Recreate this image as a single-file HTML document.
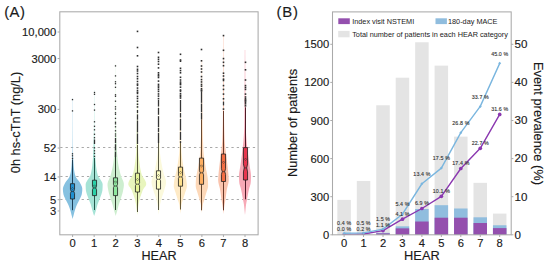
<!DOCTYPE html><html><head><meta charset="utf-8"><style>html,body{margin:0;padding:0;background:#fff;width:550px;height:266px;overflow:hidden}svg{display:block}text{font-family:"Liberation Sans", sans-serif;stroke-width:0.15px}</style></head><body>
<svg width="550" height="266" viewBox="0 0 550 266">
<rect width="550" height="266" fill="#fff"/>
<text x="4.2" y="16.9" font-size="14.9" letter-spacing="0.45" fill="#1a1a1a" stroke="#1a1a1a">(A)</text>
<line x1="60.2" y1="147.50" x2="258.1" y2="147.50" stroke="#999" stroke-width="0.85" stroke-dasharray="2.3 3.05"/>
<line x1="60.2" y1="176.50" x2="258.1" y2="176.50" stroke="#999" stroke-width="0.85" stroke-dasharray="2.3 3.05"/>
<line x1="60.2" y1="199.50" x2="258.1" y2="199.50" stroke="#999" stroke-width="0.85" stroke-dasharray="2.3 3.05"/>
<path d="M72.50,98.00 L72.50,99.53 L72.50,101.06 L72.50,102.59 L72.50,104.13 L72.50,105.66 L72.50,107.19 L72.50,108.72 L72.50,110.25 L72.50,111.78 L72.49,113.32 L72.49,114.85 L72.49,116.38 L72.49,117.91 L72.49,119.44 L72.49,120.97 L72.48,122.51 L72.48,124.04 L72.48,125.57 L72.47,127.10 L72.47,128.63 L72.47,130.16 L72.46,131.70 L72.46,133.23 L72.46,134.76 L72.45,136.29 L72.45,137.82 L72.44,139.35 L72.44,140.89 L72.43,142.42 L72.43,143.95 L72.42,145.48 L72.41,147.01 L72.41,148.54 L72.40,150.08 L72.37,151.61 L72.32,153.14 L72.24,154.67 L72.15,156.20 L72.05,157.73 L71.95,159.27 L71.85,160.80 L71.76,162.33 L71.66,163.86 L71.55,165.39 L71.42,166.92 L71.27,168.46 L71.10,169.99 L70.88,171.52 L70.59,173.05 L70.22,174.58 L69.76,176.11 L68.97,177.65 L67.84,179.18 L66.61,180.71 L65.51,182.24 L64.72,183.77 L63.96,185.30 L63.32,186.84 L62.94,188.37 L62.92,189.90 L63.04,191.43 L63.24,192.96 L63.50,194.49 L63.99,196.03 L64.67,197.56 L65.41,199.09 L66.17,200.62 L67.04,202.15 L67.85,203.68 L68.52,205.22 L69.12,206.75 L69.66,208.28 L70.15,209.81 L70.59,211.34 L71.00,212.87 L71.41,214.41 L71.82,215.94 L72.21,217.47 L72.60,219.00 L72.60,219.00 L72.99,217.47 L73.38,215.94 L73.79,214.41 L74.20,212.87 L74.61,211.34 L75.05,209.81 L75.54,208.28 L76.08,206.75 L76.68,205.22 L77.35,203.68 L78.16,202.15 L79.03,200.62 L79.79,199.09 L80.53,197.56 L81.21,196.03 L81.70,194.49 L81.96,192.96 L82.16,191.43 L82.28,189.90 L82.26,188.37 L81.88,186.84 L81.24,185.30 L80.48,183.77 L79.69,182.24 L78.59,180.71 L77.36,179.18 L76.23,177.65 L75.44,176.11 L74.98,174.58 L74.61,173.05 L74.32,171.52 L74.10,169.99 L73.93,168.46 L73.78,166.92 L73.65,165.39 L73.54,163.86 L73.44,162.33 L73.35,160.80 L73.25,159.27 L73.15,157.73 L73.05,156.20 L72.96,154.67 L72.88,153.14 L72.83,151.61 L72.80,150.08 L72.79,148.54 L72.79,147.01 L72.78,145.48 L72.77,143.95 L72.77,142.42 L72.76,140.89 L72.76,139.35 L72.75,137.82 L72.75,136.29 L72.74,134.76 L72.74,133.23 L72.74,131.70 L72.73,130.16 L72.73,128.63 L72.73,127.10 L72.72,125.57 L72.72,124.04 L72.72,122.51 L72.71,120.97 L72.71,119.44 L72.71,117.91 L72.71,116.38 L72.71,114.85 L72.71,113.32 L72.70,111.78 L72.70,110.25 L72.70,108.72 L72.70,107.19 L72.70,105.66 L72.70,104.13 L72.70,102.59 L72.70,101.06 L72.70,99.53 L72.70,98.00 Z" fill="#86c1e0" stroke="none"/>
<path d="M94.05,90.00 L94.05,91.59 L94.05,93.19 L94.05,94.78 L94.05,96.38 L94.04,97.97 L94.04,99.57 L94.04,101.16 L94.04,102.76 L94.03,104.35 L94.03,105.95 L94.02,107.54 L94.02,109.14 L94.01,110.73 L94.01,112.33 L94.00,113.92 L93.99,115.52 L93.99,117.11 L93.98,118.71 L93.97,120.30 L93.97,121.90 L93.96,123.49 L93.95,125.09 L93.94,126.68 L93.92,128.28 L93.90,129.87 L93.88,131.47 L93.85,133.06 L93.82,134.66 L93.78,136.25 L93.74,137.85 L93.70,139.44 L93.65,141.04 L93.60,142.63 L93.55,144.23 L93.50,145.82 L93.44,147.42 L93.39,149.01 L93.33,150.61 L93.26,152.20 L93.18,153.80 L93.10,155.39 L93.00,156.99 L92.90,158.58 L92.78,160.18 L92.65,161.77 L92.51,163.37 L92.35,164.96 L92.18,166.56 L91.96,168.15 L91.70,169.75 L91.41,171.34 L91.06,172.94 L90.67,174.53 L90.13,176.13 L89.20,177.72 L88.09,179.32 L86.99,180.91 L86.12,182.51 L85.67,184.10 L85.66,185.70 L85.71,187.29 L85.78,188.89 L85.90,190.48 L86.23,192.08 L86.72,193.67 L87.23,195.27 L87.81,196.86 L88.44,198.46 L89.06,200.05 L89.71,201.65 L90.34,203.24 L90.90,204.84 L91.35,206.43 L91.74,208.03 L92.14,209.62 L92.60,211.22 L93.09,212.81 L93.61,214.41 L94.15,216.00 L94.15,216.00 L94.69,214.41 L95.21,212.81 L95.70,211.22 L96.16,209.62 L96.56,208.03 L96.95,206.43 L97.40,204.84 L97.96,203.24 L98.59,201.65 L99.24,200.05 L99.86,198.46 L100.49,196.86 L101.07,195.27 L101.58,193.67 L102.07,192.08 L102.40,190.48 L102.52,188.89 L102.59,187.29 L102.64,185.70 L102.63,184.10 L102.18,182.51 L101.31,180.91 L100.21,179.32 L99.10,177.72 L98.17,176.13 L97.63,174.53 L97.24,172.94 L96.89,171.34 L96.60,169.75 L96.34,168.15 L96.12,166.56 L95.95,164.96 L95.79,163.37 L95.65,161.77 L95.52,160.18 L95.40,158.58 L95.30,156.99 L95.20,155.39 L95.12,153.80 L95.04,152.20 L94.97,150.61 L94.91,149.01 L94.86,147.42 L94.80,145.82 L94.75,144.23 L94.70,142.63 L94.65,141.04 L94.60,139.44 L94.56,137.85 L94.52,136.25 L94.48,134.66 L94.45,133.06 L94.42,131.47 L94.40,129.87 L94.38,128.28 L94.36,126.68 L94.35,125.09 L94.34,123.49 L94.33,121.90 L94.33,120.30 L94.32,118.71 L94.31,117.11 L94.31,115.52 L94.30,113.92 L94.29,112.33 L94.29,110.73 L94.28,109.14 L94.28,107.54 L94.27,105.95 L94.27,104.35 L94.26,102.76 L94.26,101.16 L94.26,99.57 L94.26,97.97 L94.25,96.38 L94.25,94.78 L94.25,93.19 L94.25,91.59 L94.25,90.00 Z" fill="#a6e3d6" stroke="none"/>
<path d="M115.60,64.00 L115.60,65.92 L115.60,67.85 L115.60,69.77 L115.60,71.70 L115.60,73.62 L115.59,75.54 L115.59,77.47 L115.59,79.39 L115.58,81.32 L115.58,83.24 L115.58,85.16 L115.57,87.09 L115.57,89.01 L115.56,90.94 L115.56,92.86 L115.55,94.78 L115.55,96.71 L115.54,98.63 L115.54,100.56 L115.53,102.48 L115.52,104.41 L115.51,106.33 L115.51,108.25 L115.50,110.18 L115.49,112.10 L115.48,114.03 L115.46,115.95 L115.44,117.87 L115.42,119.80 L115.39,121.72 L115.36,123.65 L115.33,125.57 L115.29,127.49 L115.26,129.42 L115.21,131.34 L115.17,133.27 L115.13,135.19 L115.08,137.11 L115.03,139.04 L114.97,140.96 L114.90,142.89 L114.82,144.81 L114.73,146.73 L114.62,148.66 L114.49,150.58 L114.36,152.51 L114.21,154.43 L114.04,156.35 L113.87,158.28 L113.68,160.20 L113.44,162.13 L113.15,164.05 L112.80,165.97 L112.41,167.90 L111.98,169.82 L111.52,171.75 L111.04,173.67 L110.53,175.59 L109.80,177.52 L108.93,179.44 L108.14,181.37 L107.61,183.29 L107.52,185.22 L107.72,187.14 L108.04,189.06 L108.39,190.99 L108.85,192.91 L109.40,194.84 L110.00,196.76 L110.60,198.68 L111.22,200.61 L111.90,202.53 L112.54,204.46 L113.08,206.38 L113.56,208.30 L114.06,210.23 L114.59,212.15 L115.14,214.08 L115.70,216.00 L115.70,216.00 L116.26,214.08 L116.81,212.15 L117.34,210.23 L117.84,208.30 L118.32,206.38 L118.86,204.46 L119.50,202.53 L120.18,200.61 L120.80,198.68 L121.40,196.76 L122.00,194.84 L122.55,192.91 L123.01,190.99 L123.36,189.06 L123.68,187.14 L123.88,185.22 L123.79,183.29 L123.26,181.37 L122.47,179.44 L121.60,177.52 L120.87,175.59 L120.36,173.67 L119.88,171.75 L119.42,169.82 L118.99,167.90 L118.60,165.97 L118.25,164.05 L117.96,162.13 L117.72,160.20 L117.53,158.28 L117.36,156.35 L117.19,154.43 L117.04,152.51 L116.91,150.58 L116.78,148.66 L116.67,146.73 L116.58,144.81 L116.50,142.89 L116.43,140.96 L116.37,139.04 L116.32,137.11 L116.27,135.19 L116.23,133.27 L116.19,131.34 L116.14,129.42 L116.11,127.49 L116.07,125.57 L116.04,123.65 L116.01,121.72 L115.98,119.80 L115.96,117.87 L115.94,115.95 L115.92,114.03 L115.91,112.10 L115.90,110.18 L115.89,108.25 L115.89,106.33 L115.88,104.41 L115.87,102.48 L115.86,100.56 L115.86,98.63 L115.85,96.71 L115.85,94.78 L115.84,92.86 L115.84,90.94 L115.83,89.01 L115.83,87.09 L115.82,85.16 L115.82,83.24 L115.82,81.32 L115.81,79.39 L115.81,77.47 L115.81,75.54 L115.80,73.62 L115.80,71.70 L115.80,69.77 L115.80,67.85 L115.80,65.92 L115.80,64.00 Z" fill="#cdeecf" stroke="none"/>
<path d="M136.95,100.00 L136.95,101.46 L136.95,102.91 L136.94,104.37 L136.94,105.82 L136.94,107.28 L136.93,108.73 L136.92,110.19 L136.91,111.65 L136.90,113.10 L136.89,114.56 L136.88,116.01 L136.87,117.47 L136.85,118.92 L136.84,120.38 L136.82,121.84 L136.80,123.29 L136.78,124.75 L136.76,126.20 L136.74,127.66 L136.72,129.11 L136.69,130.57 L136.67,132.03 L136.64,133.48 L136.61,134.94 L136.58,136.39 L136.55,137.85 L136.52,139.30 L136.49,140.76 L136.45,142.22 L136.42,143.67 L136.38,145.13 L136.34,146.58 L136.30,148.04 L136.26,149.49 L136.22,150.95 L136.14,152.41 L136.04,153.86 L135.92,155.32 L135.78,156.77 L135.62,158.23 L135.45,159.68 L135.27,161.14 L135.08,162.59 L134.88,164.05 L134.68,165.51 L134.46,166.96 L134.21,168.42 L133.93,169.87 L133.62,171.33 L133.27,172.78 L132.88,174.24 L132.26,175.70 L131.43,177.15 L130.50,178.61 L129.60,180.06 L128.85,181.52 L128.36,182.97 L128.29,184.43 L128.87,185.89 L129.88,187.34 L130.96,188.80 L131.76,190.25 L132.33,191.71 L132.83,193.16 L133.32,194.62 L133.83,196.08 L134.35,197.53 L134.81,198.99 L135.18,200.44 L135.50,201.90 L135.78,203.35 L136.02,204.81 L136.22,206.27 L136.39,207.72 L136.55,209.18 L136.71,210.63 L136.88,212.09 L137.06,213.54 L137.25,215.00 L137.25,215.00 L137.44,213.54 L137.62,212.09 L137.79,210.63 L137.95,209.18 L138.11,207.72 L138.28,206.27 L138.48,204.81 L138.72,203.35 L139.00,201.90 L139.32,200.44 L139.69,198.99 L140.15,197.53 L140.67,196.08 L141.18,194.62 L141.67,193.16 L142.17,191.71 L142.74,190.25 L143.54,188.80 L144.62,187.34 L145.63,185.89 L146.21,184.43 L146.14,182.97 L145.65,181.52 L144.90,180.06 L144.00,178.61 L143.07,177.15 L142.24,175.70 L141.62,174.24 L141.23,172.78 L140.88,171.33 L140.57,169.87 L140.29,168.42 L140.04,166.96 L139.82,165.51 L139.62,164.05 L139.42,162.59 L139.23,161.14 L139.05,159.68 L138.88,158.23 L138.72,156.77 L138.58,155.32 L138.46,153.86 L138.36,152.41 L138.28,150.95 L138.24,149.49 L138.20,148.04 L138.16,146.58 L138.12,145.13 L138.08,143.67 L138.05,142.22 L138.01,140.76 L137.98,139.30 L137.95,137.85 L137.92,136.39 L137.89,134.94 L137.86,133.48 L137.83,132.03 L137.81,130.57 L137.78,129.11 L137.76,127.66 L137.74,126.20 L137.72,124.75 L137.70,123.29 L137.68,121.84 L137.66,120.38 L137.65,118.92 L137.63,117.47 L137.62,116.01 L137.61,114.56 L137.60,113.10 L137.59,111.65 L137.58,110.19 L137.57,108.73 L137.56,107.28 L137.56,105.82 L137.56,104.37 L137.55,102.91 L137.55,101.46 L137.55,100.00 Z" fill="#e8f5bd" stroke="none"/>
<path d="M158.50,100.00 L158.50,101.46 L158.50,102.91 L158.50,104.37 L158.49,105.82 L158.49,107.28 L158.48,108.73 L158.47,110.19 L158.47,111.65 L158.46,113.10 L158.45,114.56 L158.43,116.01 L158.42,117.47 L158.41,118.92 L158.39,120.38 L158.38,121.84 L158.36,123.29 L158.34,124.75 L158.32,126.20 L158.30,127.66 L158.27,129.11 L158.25,130.57 L158.22,132.03 L158.20,133.48 L158.17,134.94 L158.14,136.39 L158.11,137.85 L158.08,139.30 L158.04,140.76 L158.01,142.22 L157.97,143.67 L157.94,145.13 L157.90,146.58 L157.86,148.04 L157.81,149.49 L157.76,150.95 L157.67,152.41 L157.53,153.86 L157.37,155.32 L157.17,156.77 L156.95,158.23 L156.72,159.68 L156.47,161.14 L156.22,162.59 L155.96,164.05 L155.71,165.51 L155.44,166.96 L155.13,168.42 L154.81,169.87 L154.46,171.33 L154.10,172.78 L153.74,174.24 L153.27,175.70 L152.72,177.15 L152.18,178.61 L151.75,180.06 L151.52,181.52 L151.55,182.97 L151.76,184.43 L152.11,185.89 L152.52,187.34 L152.96,188.80 L153.37,190.25 L153.80,191.71 L154.28,193.16 L154.79,194.62 L155.29,196.08 L155.77,197.53 L156.20,198.99 L156.58,200.44 L156.95,201.90 L157.28,203.35 L157.57,204.81 L157.80,206.27 L158.01,207.72 L158.19,209.18 L158.36,210.63 L158.52,212.09 L158.67,213.54 L158.80,215.00 L158.80,215.00 L158.93,213.54 L159.08,212.09 L159.24,210.63 L159.41,209.18 L159.59,207.72 L159.80,206.27 L160.03,204.81 L160.32,203.35 L160.65,201.90 L161.02,200.44 L161.40,198.99 L161.83,197.53 L162.31,196.08 L162.81,194.62 L163.32,193.16 L163.80,191.71 L164.23,190.25 L164.64,188.80 L165.08,187.34 L165.49,185.89 L165.84,184.43 L166.05,182.97 L166.08,181.52 L165.85,180.06 L165.42,178.61 L164.88,177.15 L164.33,175.70 L163.86,174.24 L163.50,172.78 L163.14,171.33 L162.79,169.87 L162.47,168.42 L162.16,166.96 L161.89,165.51 L161.64,164.05 L161.38,162.59 L161.13,161.14 L160.88,159.68 L160.65,158.23 L160.43,156.77 L160.23,155.32 L160.07,153.86 L159.93,152.41 L159.84,150.95 L159.79,149.49 L159.74,148.04 L159.70,146.58 L159.66,145.13 L159.63,143.67 L159.59,142.22 L159.56,140.76 L159.52,139.30 L159.49,137.85 L159.46,136.39 L159.43,134.94 L159.40,133.48 L159.38,132.03 L159.35,130.57 L159.33,129.11 L159.30,127.66 L159.28,126.20 L159.26,124.75 L159.24,123.29 L159.22,121.84 L159.21,120.38 L159.19,118.92 L159.18,117.47 L159.17,116.01 L159.15,114.56 L159.14,113.10 L159.13,111.65 L159.13,110.19 L159.12,108.73 L159.11,107.28 L159.11,105.82 L159.10,104.37 L159.10,102.91 L159.10,101.46 L159.10,100.00 Z" fill="#fbf9dc" stroke="none"/>
<path d="M180.05,100.00 L180.05,101.44 L180.05,102.89 L180.05,104.33 L180.04,105.77 L180.04,107.22 L180.03,108.66 L180.02,110.10 L180.02,111.54 L180.01,112.99 L180.00,114.43 L179.98,115.87 L179.97,117.32 L179.96,118.76 L179.94,120.20 L179.93,121.65 L179.91,123.09 L179.89,124.53 L179.87,125.97 L179.85,127.42 L179.83,128.86 L179.80,130.30 L179.78,131.75 L179.75,133.19 L179.73,134.63 L179.70,136.08 L179.67,137.52 L179.64,138.96 L179.60,140.41 L179.57,141.85 L179.53,143.29 L179.50,144.73 L179.46,146.18 L179.42,147.62 L179.38,149.06 L179.33,150.51 L179.25,151.95 L179.13,153.39 L178.99,154.84 L178.82,156.28 L178.64,157.72 L178.46,159.16 L178.27,160.61 L178.07,162.05 L177.84,163.49 L177.60,164.94 L177.34,166.38 L177.07,167.82 L176.79,169.27 L176.50,170.71 L176.17,172.15 L175.80,173.59 L175.41,175.04 L175.05,176.48 L174.72,177.92 L174.44,179.37 L174.24,180.81 L174.04,182.25 L173.87,183.70 L173.77,185.14 L173.78,186.58 L174.04,188.03 L174.49,189.47 L175.00,190.91 L175.45,192.35 L175.90,193.80 L176.36,195.24 L176.83,196.68 L177.31,198.13 L177.77,199.57 L178.26,201.01 L178.75,202.46 L179.13,203.90 L179.38,205.34 L179.58,206.78 L179.75,208.23 L179.91,209.67 L180.07,211.11 L180.22,212.56 L180.35,214.00 L180.35,214.00 L180.48,212.56 L180.63,211.11 L180.79,209.67 L180.95,208.23 L181.12,206.78 L181.32,205.34 L181.57,203.90 L181.95,202.46 L182.44,201.01 L182.93,199.57 L183.39,198.13 L183.87,196.68 L184.34,195.24 L184.80,193.80 L185.25,192.35 L185.70,190.91 L186.21,189.47 L186.66,188.03 L186.92,186.58 L186.93,185.14 L186.83,183.70 L186.66,182.25 L186.46,180.81 L186.26,179.37 L185.98,177.92 L185.65,176.48 L185.29,175.04 L184.90,173.59 L184.53,172.15 L184.20,170.71 L183.91,169.27 L183.63,167.82 L183.36,166.38 L183.10,164.94 L182.86,163.49 L182.63,162.05 L182.43,160.61 L182.24,159.16 L182.06,157.72 L181.88,156.28 L181.71,154.84 L181.57,153.39 L181.45,151.95 L181.37,150.51 L181.32,149.06 L181.28,147.62 L181.24,146.18 L181.20,144.73 L181.17,143.29 L181.13,141.85 L181.10,140.41 L181.06,138.96 L181.03,137.52 L181.00,136.08 L180.97,134.63 L180.95,133.19 L180.92,131.75 L180.90,130.30 L180.87,128.86 L180.85,127.42 L180.83,125.97 L180.81,124.53 L180.79,123.09 L180.77,121.65 L180.76,120.20 L180.74,118.76 L180.73,117.32 L180.72,115.87 L180.70,114.43 L180.69,112.99 L180.68,111.54 L180.68,110.10 L180.67,108.66 L180.66,107.22 L180.66,105.77 L180.65,104.33 L180.65,102.89 L180.65,101.44 L180.65,100.00 Z" fill="#feeac6" stroke="none"/>
<path d="M201.70,60.00 L201.70,61.94 L201.70,63.87 L201.70,65.81 L201.69,67.75 L201.69,69.68 L201.68,71.62 L201.68,73.56 L201.67,75.49 L201.66,77.43 L201.65,79.37 L201.64,81.30 L201.63,83.24 L201.62,85.18 L201.61,87.11 L201.59,89.05 L201.58,90.99 L201.57,92.92 L201.55,94.86 L201.54,96.80 L201.52,98.73 L201.50,100.67 L201.48,102.61 L201.47,104.54 L201.45,106.48 L201.43,108.42 L201.41,110.35 L201.39,112.29 L201.37,114.23 L201.34,116.16 L201.32,118.10 L201.30,120.04 L201.27,121.97 L201.25,123.91 L201.21,125.85 L201.18,127.78 L201.14,129.72 L201.09,131.66 L201.04,133.59 L200.99,135.53 L200.93,137.47 L200.86,139.41 L200.79,141.34 L200.71,143.28 L200.63,145.22 L200.54,147.15 L200.45,149.09 L200.34,151.03 L200.18,152.96 L199.97,154.90 L199.72,156.84 L199.44,158.77 L199.15,160.71 L198.85,162.65 L198.56,164.58 L198.25,166.52 L197.88,168.46 L197.47,170.39 L197.06,172.33 L196.66,174.27 L196.32,176.20 L196.05,178.14 L195.90,180.08 L195.80,182.01 L195.73,183.95 L195.70,185.89 L195.92,187.82 L196.49,189.76 L197.18,191.70 L197.78,193.63 L198.34,195.57 L198.91,197.51 L199.48,199.44 L200.09,201.38 L200.65,203.32 L201.01,205.25 L201.28,207.19 L201.50,209.13 L201.71,211.06 L201.90,213.00 L201.90,213.00 L202.09,211.06 L202.30,209.13 L202.52,207.19 L202.79,205.25 L203.15,203.32 L203.71,201.38 L204.32,199.44 L204.89,197.51 L205.46,195.57 L206.02,193.63 L206.62,191.70 L207.31,189.76 L207.88,187.82 L208.10,185.89 L208.07,183.95 L208.00,182.01 L207.90,180.08 L207.75,178.14 L207.48,176.20 L207.14,174.27 L206.74,172.33 L206.33,170.39 L205.92,168.46 L205.55,166.52 L205.24,164.58 L204.95,162.65 L204.65,160.71 L204.36,158.77 L204.08,156.84 L203.83,154.90 L203.62,152.96 L203.46,151.03 L203.35,149.09 L203.26,147.15 L203.17,145.22 L203.09,143.28 L203.01,141.34 L202.94,139.41 L202.87,137.47 L202.81,135.53 L202.76,133.59 L202.71,131.66 L202.66,129.72 L202.62,127.78 L202.59,125.85 L202.55,123.91 L202.53,121.97 L202.50,120.04 L202.48,118.10 L202.46,116.16 L202.43,114.23 L202.41,112.29 L202.39,110.35 L202.37,108.42 L202.35,106.48 L202.33,104.54 L202.32,102.61 L202.30,100.67 L202.28,98.73 L202.26,96.80 L202.25,94.86 L202.23,92.92 L202.22,90.99 L202.21,89.05 L202.19,87.11 L202.18,85.18 L202.17,83.24 L202.16,81.30 L202.15,79.37 L202.14,77.43 L202.13,75.49 L202.12,73.56 L202.12,71.62 L202.11,69.68 L202.11,67.75 L202.10,65.81 L202.10,63.87 L202.10,61.94 L202.10,60.00 Z" fill="#fdd8b8" stroke="none"/>
<path d="M223.25,35.00 L223.25,37.27 L223.25,39.53 L223.25,41.80 L223.25,44.06 L223.24,46.33 L223.24,48.59 L223.24,50.86 L223.23,53.13 L223.23,55.39 L223.22,57.66 L223.21,59.92 L223.21,62.19 L223.20,64.46 L223.19,66.72 L223.18,68.99 L223.18,71.25 L223.17,73.52 L223.16,75.78 L223.15,78.05 L223.14,80.32 L223.12,82.58 L223.11,84.85 L223.10,87.11 L223.09,89.38 L223.07,91.65 L223.06,93.91 L223.05,96.18 L223.03,98.44 L223.02,100.71 L223.00,102.97 L222.99,105.24 L222.97,107.51 L222.95,109.77 L222.93,112.04 L222.91,114.30 L222.88,116.57 L222.84,118.84 L222.80,121.10 L222.76,123.37 L222.71,125.63 L222.65,127.90 L222.59,130.16 L222.52,132.43 L222.45,134.70 L222.37,136.96 L222.28,139.23 L222.17,141.49 L222.01,143.76 L221.79,146.03 L221.53,148.29 L221.25,150.56 L220.95,152.82 L220.65,155.09 L220.36,157.35 L220.09,159.62 L219.84,161.89 L219.58,164.15 L219.31,166.42 L219.05,168.68 L218.81,170.95 L218.59,173.22 L218.41,175.48 L218.24,177.75 L218.15,180.01 L218.35,182.28 L218.83,184.54 L219.43,186.81 L219.98,189.08 L220.36,191.34 L220.66,193.61 L220.95,195.87 L221.25,198.14 L221.60,200.41 L222.04,202.67 L222.44,204.94 L222.73,207.20 L222.99,209.47 L223.23,211.73 L223.45,214.00 L223.45,214.00 L223.67,211.73 L223.91,209.47 L224.17,207.20 L224.46,204.94 L224.86,202.67 L225.30,200.41 L225.65,198.14 L225.95,195.87 L226.24,193.61 L226.54,191.34 L226.92,189.08 L227.47,186.81 L228.07,184.54 L228.55,182.28 L228.75,180.01 L228.66,177.75 L228.49,175.48 L228.31,173.22 L228.09,170.95 L227.85,168.68 L227.59,166.42 L227.32,164.15 L227.06,161.89 L226.81,159.62 L226.54,157.35 L226.25,155.09 L225.95,152.82 L225.65,150.56 L225.37,148.29 L225.11,146.03 L224.89,143.76 L224.73,141.49 L224.62,139.23 L224.53,136.96 L224.45,134.70 L224.38,132.43 L224.31,130.16 L224.25,127.90 L224.19,125.63 L224.14,123.37 L224.10,121.10 L224.06,118.84 L224.02,116.57 L223.99,114.30 L223.97,112.04 L223.95,109.77 L223.93,107.51 L223.91,105.24 L223.90,102.97 L223.88,100.71 L223.87,98.44 L223.85,96.18 L223.84,93.91 L223.83,91.65 L223.81,89.38 L223.80,87.11 L223.79,84.85 L223.78,82.58 L223.76,80.32 L223.75,78.05 L223.74,75.78 L223.73,73.52 L223.72,71.25 L223.72,68.99 L223.71,66.72 L223.70,64.46 L223.69,62.19 L223.69,59.92 L223.68,57.66 L223.67,55.39 L223.67,53.13 L223.66,50.86 L223.66,48.59 L223.66,46.33 L223.65,44.06 L223.65,41.80 L223.65,39.53 L223.65,37.27 L223.65,35.00 Z" fill="#fac4ae" stroke="none"/>
<path d="M244.80,50.00 L244.80,52.09 L244.79,54.18 L244.78,56.27 L244.78,58.35 L244.77,60.44 L244.76,62.53 L244.75,64.62 L244.74,66.71 L244.73,68.80 L244.72,70.89 L244.71,72.97 L244.70,75.06 L244.69,77.15 L244.68,79.24 L244.66,81.33 L244.65,83.42 L244.64,85.51 L244.62,87.59 L244.61,89.68 L244.60,91.77 L244.58,93.86 L244.57,95.95 L244.55,98.04 L244.54,100.13 L244.52,102.22 L244.51,104.30 L244.49,106.39 L244.48,108.48 L244.46,110.57 L244.44,112.66 L244.43,114.75 L244.41,116.84 L244.39,118.92 L244.36,121.01 L244.33,123.10 L244.30,125.19 L244.24,127.28 L244.16,129.37 L244.06,131.46 L243.94,133.54 L243.81,135.63 L243.66,137.72 L243.51,139.81 L243.35,141.90 L243.14,143.99 L242.91,146.08 L242.68,148.16 L242.44,150.25 L242.19,152.34 L241.92,154.43 L241.64,156.52 L241.36,158.61 L241.08,160.70 L240.80,162.78 L240.52,164.87 L240.20,166.96 L239.82,169.05 L239.46,171.14 L239.17,173.23 L239.01,175.32 L239.01,177.41 L239.08,179.49 L239.18,181.58 L239.42,183.67 L239.97,185.76 L240.62,187.85 L241.19,189.94 L241.62,192.03 L242.02,194.11 L242.40,196.20 L242.78,198.29 L243.17,200.38 L243.58,202.47 L243.94,204.56 L244.19,206.65 L244.39,208.73 L244.58,210.82 L244.79,212.91 L245.00,215.00 L245.00,215.00 L245.21,212.91 L245.42,210.82 L245.61,208.73 L245.81,206.65 L246.06,204.56 L246.42,202.47 L246.83,200.38 L247.22,198.29 L247.60,196.20 L247.98,194.11 L248.38,192.03 L248.81,189.94 L249.38,187.85 L250.03,185.76 L250.58,183.67 L250.82,181.58 L250.92,179.49 L250.99,177.41 L250.99,175.32 L250.83,173.23 L250.54,171.14 L250.18,169.05 L249.80,166.96 L249.48,164.87 L249.20,162.78 L248.92,160.70 L248.64,158.61 L248.36,156.52 L248.08,154.43 L247.81,152.34 L247.56,150.25 L247.32,148.16 L247.09,146.08 L246.86,143.99 L246.65,141.90 L246.49,139.81 L246.34,137.72 L246.19,135.63 L246.06,133.54 L245.94,131.46 L245.84,129.37 L245.76,127.28 L245.70,125.19 L245.67,123.10 L245.64,121.01 L245.61,118.92 L245.59,116.84 L245.57,114.75 L245.56,112.66 L245.54,110.57 L245.52,108.48 L245.51,106.39 L245.49,104.30 L245.48,102.22 L245.46,100.13 L245.45,98.04 L245.43,95.95 L245.42,93.86 L245.40,91.77 L245.39,89.68 L245.38,87.59 L245.36,85.51 L245.35,83.42 L245.34,81.33 L245.32,79.24 L245.31,77.15 L245.30,75.06 L245.29,72.97 L245.28,70.89 L245.27,68.80 L245.26,66.71 L245.25,64.62 L245.24,62.53 L245.23,60.44 L245.22,58.35 L245.22,56.27 L245.21,54.18 L245.20,52.09 L245.20,50.00 Z" fill="#f7a9b6" stroke="none"/>
<line x1="72.50" y1="159.50" x2="72.50" y2="183.70" stroke="#1c4058" stroke-width="1.0"/>
<line x1="72.50" y1="199.00" x2="72.50" y2="210.20" stroke="#1c4058" stroke-width="1.0"/>
<rect x="71.85" y="98.95" width="1.3" height="1.3" fill="#2e2e2e"/>
<rect x="71.85" y="110.25" width="1.3" height="1.3" fill="#2e2e2e"/>
<rect x="71.85" y="153.15" width="1.3" height="1.3" fill="#2e2e2e"/>
<rect x="71.85" y="155.15" width="1.3" height="1.3" fill="#2e2e2e"/>
<rect x="71.85" y="157.75" width="1.3" height="1.3" fill="#2e2e2e"/>
<path d="M70.45,183.70 L74.55,183.70 L74.55,189.40 L73.75,191.40 L74.55,193.40 L74.55,199.00 L70.45,199.00 L70.45,193.40 L71.25,191.40 L70.45,189.40 Z" fill="#1f8fd0" stroke="#1e1e1e" stroke-width="0.8"/>
<line x1="71.25" y1="191.40" x2="73.75" y2="191.40" stroke="#222" stroke-width="0.6"/>
<path d="M72.50,187.40 L73.70,188.60 L72.50,189.80 L71.30,188.60 Z" fill="none" stroke="#333" stroke-width="0.5"/>
<line x1="94.50" y1="158.00" x2="94.50" y2="180.20" stroke="#24584c" stroke-width="1.0"/>
<line x1="94.50" y1="195.60" x2="94.50" y2="210.00" stroke="#24584c" stroke-width="1.0"/>
<line x1="94.50" y1="139.50" x2="94.50" y2="144.00" stroke="#333" stroke-width="1.3"/>
<rect x="93.85" y="91.85" width="1.3" height="1.3" fill="#2e2e2e"/>
<rect x="93.85" y="93.65" width="1.3" height="1.3" fill="#2e2e2e"/>
<rect x="93.85" y="103.85" width="1.3" height="1.3" fill="#2e2e2e"/>
<rect x="93.85" y="109.45" width="1.3" height="1.3" fill="#2e2e2e"/>
<rect x="93.85" y="121.15" width="1.3" height="1.3" fill="#2e2e2e"/>
<rect x="93.85" y="125.65" width="1.3" height="1.3" fill="#2e2e2e"/>
<rect x="93.85" y="129.15" width="1.3" height="1.3" fill="#2e2e2e"/>
<rect x="93.85" y="133.65" width="1.3" height="1.3" fill="#2e2e2e"/>
<rect x="93.85" y="137.05" width="1.3" height="1.3" fill="#2e2e2e"/>
<rect x="93.85" y="147.15" width="1.3" height="1.3" fill="#2e2e2e"/>
<rect x="93.85" y="150.15" width="1.3" height="1.3" fill="#2e2e2e"/>
<rect x="93.85" y="152.75" width="1.3" height="1.3" fill="#2e2e2e"/>
<rect x="93.85" y="155.75" width="1.3" height="1.3" fill="#2e2e2e"/>
<path d="M92.45,180.20 L96.55,180.20 L96.55,186.20 L95.75,188.00 L96.55,189.80 L96.55,195.60 L92.45,195.60 L92.45,189.80 L93.25,188.00 L92.45,186.20 Z" fill="#2ad0a8" stroke="#1e1e1e" stroke-width="0.8"/>
<line x1="93.25" y1="188.00" x2="95.75" y2="188.00" stroke="#222" stroke-width="0.6"/>
<path d="M94.50,184.80 L95.70,186.00 L94.50,187.20 L93.30,186.00 Z" fill="none" stroke="#333" stroke-width="0.5"/>
<line x1="115.50" y1="157.00" x2="115.50" y2="177.80" stroke="#2e3e2e" stroke-width="1.0"/>
<line x1="115.50" y1="195.60" x2="115.50" y2="210.00" stroke="#2e3e2e" stroke-width="1.0"/>
<line x1="115.50" y1="138.00" x2="115.50" y2="143.14" stroke="#353535" stroke-width="1.3"/>
<line x1="115.50" y1="144.18" x2="115.50" y2="150.51" stroke="#353535" stroke-width="1.3"/>
<line x1="115.50" y1="151.59" x2="115.50" y2="157.00" stroke="#353535" stroke-width="1.3"/>
<rect x="114.85" y="65.25" width="1.3" height="1.3" fill="#2e2e2e"/>
<rect x="114.85" y="75.25" width="1.3" height="1.3" fill="#2e2e2e"/>
<rect x="114.85" y="81.15" width="1.3" height="1.3" fill="#2e2e2e"/>
<rect x="114.85" y="83.05" width="1.3" height="1.3" fill="#2e2e2e"/>
<rect x="114.85" y="86.65" width="1.3" height="1.3" fill="#2e2e2e"/>
<rect x="114.85" y="94.15" width="1.3" height="1.3" fill="#2e2e2e"/>
<rect x="114.85" y="95.65" width="1.3" height="1.3" fill="#2e2e2e"/>
<rect x="114.85" y="100.55" width="1.3" height="1.3" fill="#2e2e2e"/>
<rect x="114.85" y="106.15" width="1.3" height="1.3" fill="#2e2e2e"/>
<rect x="114.85" y="108.35" width="1.3" height="1.3" fill="#2e2e2e"/>
<rect x="114.85" y="112.15" width="1.3" height="1.3" fill="#2e2e2e"/>
<rect x="114.85" y="113.65" width="1.3" height="1.3" fill="#2e2e2e"/>
<rect x="114.85" y="117.75" width="1.3" height="1.3" fill="#2e2e2e"/>
<rect x="114.85" y="121.65" width="1.3" height="1.3" fill="#2e2e2e"/>
<rect x="114.85" y="123.15" width="1.3" height="1.3" fill="#2e2e2e"/>
<rect x="114.85" y="126.15" width="1.3" height="1.3" fill="#2e2e2e"/>
<rect x="114.85" y="130.15" width="1.3" height="1.3" fill="#2e2e2e"/>
<rect x="114.85" y="133.35" width="1.3" height="1.3" fill="#2e2e2e"/>
<rect x="114.85" y="135.35" width="1.3" height="1.3" fill="#2e2e2e"/>
<path d="M113.45,177.80 L117.55,177.80 L117.55,184.40 L116.75,186.00 L117.55,187.60 L117.55,195.60 L113.45,195.60 L113.45,187.60 L114.25,186.00 L113.45,184.40 Z" fill="#8fe89f" stroke="#1e1e1e" stroke-width="0.8"/>
<line x1="114.25" y1="186.00" x2="116.75" y2="186.00" stroke="#222" stroke-width="0.6"/>
<path d="M115.50,180.80 L116.70,182.00 L115.50,183.20 L114.30,182.00 Z" fill="none" stroke="#333" stroke-width="0.5"/>
<line x1="137.50" y1="145.00" x2="137.50" y2="173.20" stroke="#55553a" stroke-width="1.0"/>
<line x1="137.50" y1="192.00" x2="137.50" y2="212.00" stroke="#55553a" stroke-width="1.0"/>
<line x1="137.50" y1="110.00" x2="137.50" y2="113.12" stroke="#353535" stroke-width="1.3"/>
<line x1="137.50" y1="114.39" x2="137.50" y2="119.72" stroke="#353535" stroke-width="1.3"/>
<line x1="137.50" y1="120.51" x2="137.50" y2="132.47" stroke="#353535" stroke-width="1.3"/>
<line x1="137.50" y1="133.45" x2="137.50" y2="143.98" stroke="#353535" stroke-width="1.3"/>
<line x1="137.50" y1="144.96" x2="137.50" y2="145.00" stroke="#353535" stroke-width="1.3"/>
<rect x="136.70" y="30.60" width="1.6" height="1.6" fill="#2e2e2e"/>
<rect x="136.70" y="46.70" width="1.6" height="1.6" fill="#2e2e2e"/>
<rect x="136.70" y="55.00" width="1.6" height="1.6" fill="#2e2e2e"/>
<rect x="136.70" y="65.70" width="1.6" height="1.6" fill="#2e2e2e"/>
<rect x="136.70" y="68.50" width="1.6" height="1.6" fill="#2e2e2e"/>
<rect x="136.70" y="70.20" width="1.6" height="1.6" fill="#2e2e2e"/>
<rect x="136.70" y="72.70" width="1.6" height="1.6" fill="#2e2e2e"/>
<rect x="136.70" y="75.71" width="1.6" height="1.6" fill="#2e2e2e"/>
<rect x="136.70" y="77.96" width="1.6" height="1.6" fill="#2e2e2e"/>
<rect x="136.70" y="80.69" width="1.6" height="1.6" fill="#2e2e2e"/>
<rect x="136.70" y="83.27" width="1.6" height="1.6" fill="#2e2e2e"/>
<rect x="136.70" y="84.51" width="1.6" height="1.6" fill="#2e2e2e"/>
<rect x="136.70" y="87.27" width="1.6" height="1.6" fill="#2e2e2e"/>
<rect x="136.70" y="89.67" width="1.6" height="1.6" fill="#2e2e2e"/>
<rect x="136.70" y="91.44" width="1.6" height="1.6" fill="#2e2e2e"/>
<rect x="136.70" y="92.61" width="1.6" height="1.6" fill="#2e2e2e"/>
<rect x="136.70" y="95.61" width="1.6" height="1.6" fill="#2e2e2e"/>
<rect x="136.70" y="97.75" width="1.6" height="1.6" fill="#2e2e2e"/>
<rect x="136.70" y="100.43" width="1.6" height="1.6" fill="#2e2e2e"/>
<rect x="136.70" y="103.46" width="1.6" height="1.6" fill="#2e2e2e"/>
<rect x="136.70" y="106.14" width="1.6" height="1.6" fill="#2e2e2e"/>
<path d="M135.45,173.20 L139.55,173.20 L139.55,182.80 L138.75,184.20 L139.55,185.60 L139.55,192.00 L135.45,192.00 L135.45,185.60 L136.25,184.20 L135.45,182.80 Z" fill="#e6f598" stroke="#1e1e1e" stroke-width="0.8"/>
<line x1="136.25" y1="184.20" x2="138.75" y2="184.20" stroke="#222" stroke-width="0.6"/>
<path d="M137.50,178.30 L138.70,179.50 L137.50,180.70 L136.30,179.50 Z" fill="none" stroke="#333" stroke-width="0.5"/>
<line x1="158.50" y1="143.00" x2="158.50" y2="170.80" stroke="#5a5a45" stroke-width="1.0"/>
<line x1="158.50" y1="189.10" x2="158.50" y2="210.00" stroke="#5a5a45" stroke-width="1.0"/>
<line x1="158.50" y1="100.00" x2="158.50" y2="106.55" stroke="#353535" stroke-width="1.3"/>
<line x1="158.50" y1="107.80" x2="158.50" y2="114.80" stroke="#353535" stroke-width="1.3"/>
<line x1="158.50" y1="116.15" x2="158.50" y2="127.06" stroke="#353535" stroke-width="1.3"/>
<line x1="158.50" y1="127.73" x2="158.50" y2="131.96" stroke="#353535" stroke-width="1.3"/>
<line x1="158.50" y1="132.73" x2="158.50" y2="143.00" stroke="#353535" stroke-width="1.3"/>
<rect x="157.70" y="51.70" width="1.6" height="1.6" fill="#2e2e2e"/>
<rect x="157.70" y="56.50" width="1.6" height="1.6" fill="#2e2e2e"/>
<rect x="157.70" y="58.50" width="1.6" height="1.6" fill="#2e2e2e"/>
<rect x="157.70" y="60.70" width="1.6" height="1.6" fill="#2e2e2e"/>
<rect x="157.70" y="63.40" width="1.6" height="1.6" fill="#2e2e2e"/>
<rect x="157.70" y="67.10" width="1.6" height="1.6" fill="#2e2e2e"/>
<rect x="157.70" y="80.30" width="1.6" height="1.6" fill="#2e2e2e"/>
<rect x="157.70" y="83.60" width="1.6" height="1.6" fill="#2e2e2e"/>
<rect x="157.70" y="72.00" width="1.6" height="1.6" fill="#2e2e2e"/>
<rect x="157.70" y="73.80" width="1.6" height="1.6" fill="#2e2e2e"/>
<rect x="157.70" y="75.08" width="1.6" height="1.6" fill="#2e2e2e"/>
<rect x="157.70" y="76.70" width="1.6" height="1.6" fill="#2e2e2e"/>
<rect x="157.70" y="85.20" width="1.6" height="1.6" fill="#2e2e2e"/>
<rect x="157.70" y="86.73" width="1.6" height="1.6" fill="#2e2e2e"/>
<rect x="157.70" y="88.68" width="1.6" height="1.6" fill="#2e2e2e"/>
<rect x="157.70" y="90.64" width="1.6" height="1.6" fill="#2e2e2e"/>
<rect x="157.70" y="93.16" width="1.6" height="1.6" fill="#2e2e2e"/>
<rect x="157.70" y="95.29" width="1.6" height="1.6" fill="#2e2e2e"/>
<rect x="157.70" y="97.86" width="1.6" height="1.6" fill="#2e2e2e"/>
<path d="M156.45,170.80 L160.55,170.80 L160.55,178.00 L159.75,179.30 L160.55,180.60 L160.55,189.10 L156.45,189.10 L156.45,180.60 L157.25,179.30 L156.45,178.00 Z" fill="#ffffc4" stroke="#1e1e1e" stroke-width="0.8"/>
<line x1="157.25" y1="179.30" x2="159.75" y2="179.30" stroke="#222" stroke-width="0.6"/>
<path d="M158.50,174.30 L159.70,175.50 L158.50,176.70 L157.30,175.50 Z" fill="none" stroke="#333" stroke-width="0.5"/>
<line x1="180.50" y1="143.00" x2="180.50" y2="167.10" stroke="#6a5a35" stroke-width="1.0"/>
<line x1="180.50" y1="186.20" x2="180.50" y2="209.50" stroke="#6a5a35" stroke-width="1.0"/>
<line x1="180.50" y1="100.00" x2="180.50" y2="111.92" stroke="#353535" stroke-width="1.3"/>
<line x1="180.50" y1="113.06" x2="180.50" y2="117.52" stroke="#353535" stroke-width="1.3"/>
<line x1="180.50" y1="118.81" x2="180.50" y2="130.49" stroke="#353535" stroke-width="1.3"/>
<line x1="180.50" y1="131.82" x2="180.50" y2="139.94" stroke="#353535" stroke-width="1.3"/>
<line x1="180.50" y1="141.11" x2="180.50" y2="143.00" stroke="#353535" stroke-width="1.3"/>
<rect x="179.70" y="53.50" width="1.6" height="1.6" fill="#2e2e2e"/>
<rect x="179.70" y="59.20" width="1.6" height="1.6" fill="#2e2e2e"/>
<rect x="179.70" y="60.40" width="1.6" height="1.6" fill="#2e2e2e"/>
<rect x="179.70" y="67.50" width="1.6" height="1.6" fill="#2e2e2e"/>
<rect x="179.70" y="69.80" width="1.6" height="1.6" fill="#2e2e2e"/>
<rect x="179.70" y="72.00" width="1.6" height="1.6" fill="#2e2e2e"/>
<rect x="179.70" y="76.50" width="1.6" height="1.6" fill="#2e2e2e"/>
<rect x="179.70" y="79.20" width="1.6" height="1.6" fill="#2e2e2e"/>
<rect x="179.70" y="81.24" width="1.6" height="1.6" fill="#2e2e2e"/>
<rect x="179.70" y="82.73" width="1.6" height="1.6" fill="#2e2e2e"/>
<rect x="179.70" y="83.80" width="1.6" height="1.6" fill="#2e2e2e"/>
<rect x="179.70" y="86.37" width="1.6" height="1.6" fill="#2e2e2e"/>
<rect x="179.70" y="89.20" width="1.6" height="1.6" fill="#2e2e2e"/>
<rect x="179.70" y="90.32" width="1.6" height="1.6" fill="#2e2e2e"/>
<rect x="179.70" y="92.79" width="1.6" height="1.6" fill="#2e2e2e"/>
<rect x="179.70" y="94.52" width="1.6" height="1.6" fill="#2e2e2e"/>
<rect x="179.70" y="95.76" width="1.6" height="1.6" fill="#2e2e2e"/>
<rect x="179.70" y="97.27" width="1.6" height="1.6" fill="#2e2e2e"/>
<path d="M178.45,167.10 L182.55,167.10 L182.55,175.50 L181.75,176.90 L182.55,178.30 L182.55,186.20 L178.45,186.20 L178.45,178.30 L179.25,176.90 L178.45,175.50 Z" fill="#fee08b" stroke="#1e1e1e" stroke-width="0.8"/>
<line x1="179.25" y1="176.90" x2="181.75" y2="176.90" stroke="#222" stroke-width="0.6"/>
<path d="M180.50,171.30 L181.70,172.50 L180.50,173.70 L179.30,172.50 Z" fill="none" stroke="#333" stroke-width="0.5"/>
<line x1="201.50" y1="119.50" x2="201.50" y2="158.10" stroke="#6a4a30" stroke-width="1.0"/>
<line x1="201.50" y1="184.30" x2="201.50" y2="210.30" stroke="#6a4a30" stroke-width="1.0"/>
<line x1="201.50" y1="92.00" x2="201.50" y2="102.85" stroke="#353535" stroke-width="1.3"/>
<line x1="201.50" y1="103.49" x2="201.50" y2="112.02" stroke="#353535" stroke-width="1.3"/>
<line x1="201.50" y1="112.66" x2="201.50" y2="119.50" stroke="#353535" stroke-width="1.3"/>
<rect x="200.70" y="48.70" width="1.6" height="1.6" fill="#2e2e2e"/>
<rect x="200.70" y="60.00" width="1.6" height="1.6" fill="#2e2e2e"/>
<rect x="200.70" y="65.20" width="1.6" height="1.6" fill="#2e2e2e"/>
<rect x="200.70" y="68.20" width="1.6" height="1.6" fill="#2e2e2e"/>
<rect x="200.70" y="71.20" width="1.6" height="1.6" fill="#2e2e2e"/>
<rect x="200.70" y="75.80" width="1.6" height="1.6" fill="#2e2e2e"/>
<rect x="200.70" y="78.80" width="1.6" height="1.6" fill="#2e2e2e"/>
<rect x="200.70" y="81.15" width="1.6" height="1.6" fill="#2e2e2e"/>
<rect x="200.70" y="83.66" width="1.6" height="1.6" fill="#2e2e2e"/>
<rect x="200.70" y="85.37" width="1.6" height="1.6" fill="#2e2e2e"/>
<rect x="200.70" y="87.92" width="1.6" height="1.6" fill="#2e2e2e"/>
<rect x="200.70" y="89.30" width="1.6" height="1.6" fill="#2e2e2e"/>
<rect x="200.70" y="90.28" width="1.6" height="1.6" fill="#2e2e2e"/>
<path d="M199.45,158.10 L203.55,158.10 L203.55,170.80 L202.75,172.80 L203.55,174.80 L203.55,184.30 L199.45,184.30 L199.45,174.80 L200.25,172.80 L199.45,170.80 Z" fill="#fdae61" stroke="#1e1e1e" stroke-width="0.8"/>
<line x1="200.25" y1="172.80" x2="202.75" y2="172.80" stroke="#222" stroke-width="0.6"/>
<path d="M201.50,164.80 L202.70,166.00 L201.50,167.20 L200.30,166.00 Z" fill="none" stroke="#333" stroke-width="0.5"/>
<line x1="223.50" y1="111.00" x2="223.50" y2="154.00" stroke="#6a3a2a" stroke-width="1.0"/>
<line x1="223.50" y1="181.50" x2="223.50" y2="210.30" stroke="#6a3a2a" stroke-width="1.0"/>
<line x1="223.50" y1="101.60" x2="223.50" y2="105.40" stroke="#333" stroke-width="1.3"/>
<rect x="222.70" y="34.80" width="1.6" height="1.6" fill="#2e2e2e"/>
<rect x="222.70" y="49.50" width="1.6" height="1.6" fill="#2e2e2e"/>
<rect x="222.70" y="57.80" width="1.6" height="1.6" fill="#2e2e2e"/>
<rect x="222.70" y="61.50" width="1.6" height="1.6" fill="#2e2e2e"/>
<rect x="222.70" y="64.90" width="1.6" height="1.6" fill="#2e2e2e"/>
<rect x="222.70" y="72.40" width="1.6" height="1.6" fill="#2e2e2e"/>
<rect x="222.70" y="75.20" width="1.6" height="1.6" fill="#2e2e2e"/>
<rect x="222.70" y="78.40" width="1.6" height="1.6" fill="#2e2e2e"/>
<rect x="222.70" y="79.70" width="1.6" height="1.6" fill="#2e2e2e"/>
<rect x="222.70" y="84.80" width="1.6" height="1.6" fill="#2e2e2e"/>
<rect x="222.70" y="88.60" width="1.6" height="1.6" fill="#2e2e2e"/>
<rect x="222.70" y="93.30" width="1.6" height="1.6" fill="#2e2e2e"/>
<rect x="222.70" y="98.00" width="1.6" height="1.6" fill="#2e2e2e"/>
<rect x="222.70" y="108.30" width="1.6" height="1.6" fill="#2e2e2e"/>
<path d="M221.45,154.00 L225.55,154.00 L225.55,168.80 L224.75,171.60 L225.55,174.40 L225.55,181.50 L221.45,181.50 L221.45,174.40 L222.25,171.60 L221.45,168.80 Z" fill="#f46d43" stroke="#1e1e1e" stroke-width="0.8"/>
<line x1="222.25" y1="171.60" x2="224.75" y2="171.60" stroke="#222" stroke-width="0.6"/>
<path d="M223.50,161.10 L224.70,162.30 L223.50,163.50 L222.30,162.30 Z" fill="none" stroke="#333" stroke-width="0.5"/>
<line x1="245.50" y1="107.30" x2="245.50" y2="147.60" stroke="#501c28" stroke-width="1.0"/>
<line x1="245.50" y1="180.00" x2="245.50" y2="199.30" stroke="#501c28" stroke-width="1.0"/>
<rect x="244.70" y="61.50" width="1.6" height="1.6" fill="#2e2e2e"/>
<rect x="244.70" y="69.00" width="1.6" height="1.6" fill="#2e2e2e"/>
<rect x="244.70" y="79.20" width="1.6" height="1.6" fill="#2e2e2e"/>
<rect x="244.70" y="84.80" width="1.6" height="1.6" fill="#2e2e2e"/>
<rect x="244.70" y="86.70" width="1.6" height="1.6" fill="#2e2e2e"/>
<rect x="244.70" y="88.60" width="1.6" height="1.6" fill="#2e2e2e"/>
<rect x="244.70" y="93.30" width="1.6" height="1.6" fill="#2e2e2e"/>
<rect x="244.70" y="96.20" width="1.6" height="1.6" fill="#2e2e2e"/>
<rect x="244.70" y="98.00" width="1.6" height="1.6" fill="#2e2e2e"/>
<rect x="244.70" y="99.20" width="1.6" height="1.6" fill="#2e2e2e"/>
<rect x="244.70" y="100.16" width="1.6" height="1.6" fill="#2e2e2e"/>
<rect x="244.70" y="101.41" width="1.6" height="1.6" fill="#2e2e2e"/>
<rect x="244.70" y="103.05" width="1.6" height="1.6" fill="#2e2e2e"/>
<rect x="244.70" y="105.04" width="1.6" height="1.6" fill="#2e2e2e"/>
<path d="M243.45,147.60 L247.55,147.60 L247.55,163.90 L246.75,167.90 L247.55,171.90 L247.55,180.00 L243.45,180.00 L243.45,171.90 L244.25,167.90 L243.45,163.90 Z" fill="#e8374f" stroke="#1e1e1e" stroke-width="0.8"/>
<line x1="244.25" y1="167.90" x2="246.75" y2="167.90" stroke="#222" stroke-width="0.6"/>
<path d="M245.50,158.10 L246.70,159.30 L245.50,160.50 L244.30,159.30 Z" fill="none" stroke="#333" stroke-width="0.5"/>
<rect x="59.8" y="11.8" width="198.3" height="223.0" fill="none" stroke="#aaaaaa" stroke-width="1.05"/>
<line x1="57.6" y1="32.00" x2="59.8" y2="32.00" stroke="#aaaaaa" stroke-width="1"/>
<text x="56.3" y="36.00" font-size="11.2" text-anchor="end" fill="#1a1a1a" stroke="#1a1a1a">10,000</text>
<line x1="57.6" y1="58.56" x2="59.8" y2="58.56" stroke="#aaaaaa" stroke-width="1"/>
<text x="56.3" y="62.56" font-size="11.2" text-anchor="end" fill="#1a1a1a" stroke="#1a1a1a">3000</text>
<line x1="57.6" y1="109.36" x2="59.8" y2="109.36" stroke="#aaaaaa" stroke-width="1"/>
<text x="56.3" y="113.36" font-size="11.2" text-anchor="end" fill="#1a1a1a" stroke="#1a1a1a">300</text>
<line x1="57.6" y1="148.03" x2="59.8" y2="148.03" stroke="#aaaaaa" stroke-width="1"/>
<text x="56.3" y="152.03" font-size="11.2" text-anchor="end" fill="#1a1a1a" stroke="#1a1a1a">52</text>
<line x1="57.6" y1="176.98" x2="59.8" y2="176.98" stroke="#aaaaaa" stroke-width="1"/>
<text x="56.3" y="180.98" font-size="11.2" text-anchor="end" fill="#1a1a1a" stroke="#1a1a1a">14</text>
<line x1="57.6" y1="199.69" x2="59.8" y2="199.69" stroke="#aaaaaa" stroke-width="1"/>
<text x="56.3" y="203.69" font-size="11.2" text-anchor="end" fill="#1a1a1a" stroke="#1a1a1a">5</text>
<line x1="57.6" y1="210.96" x2="59.8" y2="210.96" stroke="#aaaaaa" stroke-width="1"/>
<text x="56.3" y="214.96" font-size="11.2" text-anchor="end" fill="#1a1a1a" stroke="#1a1a1a">3</text>
<line x1="72.60" y1="234.8" x2="72.60" y2="237.0" stroke="#aaaaaa" stroke-width="1"/>
<text x="72.60" y="246.6" font-size="11.2" text-anchor="middle" fill="#1a1a1a" stroke="#1a1a1a">0</text>
<line x1="94.15" y1="234.8" x2="94.15" y2="237.0" stroke="#aaaaaa" stroke-width="1"/>
<text x="94.15" y="246.6" font-size="11.2" text-anchor="middle" fill="#1a1a1a" stroke="#1a1a1a">1</text>
<line x1="115.70" y1="234.8" x2="115.70" y2="237.0" stroke="#aaaaaa" stroke-width="1"/>
<text x="115.70" y="246.6" font-size="11.2" text-anchor="middle" fill="#1a1a1a" stroke="#1a1a1a">2</text>
<line x1="137.25" y1="234.8" x2="137.25" y2="237.0" stroke="#aaaaaa" stroke-width="1"/>
<text x="137.25" y="246.6" font-size="11.2" text-anchor="middle" fill="#1a1a1a" stroke="#1a1a1a">3</text>
<line x1="158.80" y1="234.8" x2="158.80" y2="237.0" stroke="#aaaaaa" stroke-width="1"/>
<text x="158.80" y="246.6" font-size="11.2" text-anchor="middle" fill="#1a1a1a" stroke="#1a1a1a">4</text>
<line x1="180.35" y1="234.8" x2="180.35" y2="237.0" stroke="#aaaaaa" stroke-width="1"/>
<text x="180.35" y="246.6" font-size="11.2" text-anchor="middle" fill="#1a1a1a" stroke="#1a1a1a">5</text>
<line x1="201.90" y1="234.8" x2="201.90" y2="237.0" stroke="#aaaaaa" stroke-width="1"/>
<text x="201.90" y="246.6" font-size="11.2" text-anchor="middle" fill="#1a1a1a" stroke="#1a1a1a">6</text>
<line x1="223.45" y1="234.8" x2="223.45" y2="237.0" stroke="#aaaaaa" stroke-width="1"/>
<text x="223.45" y="246.6" font-size="11.2" text-anchor="middle" fill="#1a1a1a" stroke="#1a1a1a">7</text>
<line x1="245.00" y1="234.8" x2="245.00" y2="237.0" stroke="#aaaaaa" stroke-width="1"/>
<text x="245.00" y="246.6" font-size="11.2" text-anchor="middle" fill="#1a1a1a" stroke="#1a1a1a">8</text>
<text x="159" y="260.2" font-size="12.6" text-anchor="middle" fill="#1a1a1a" stroke="#1a1a1a">HEAR</text>
<text transform="translate(19.6,122.5) rotate(-90)" font-size="12.8" text-anchor="middle" fill="#1a1a1a" stroke="#1a1a1a">0h hs-cTnT (ng/L)</text>
<text x="276.6" y="17.4" font-size="14.9" letter-spacing="0.7" fill="#1a1a1a" stroke="#1a1a1a">(B)</text>
<rect x="337.35" y="199.88" width="13.50" height="34.93" fill="#e4e4e4"/>
<rect x="337.35" y="234.66" width="13.50" height="0.14" fill="#90bdde"/>
<rect x="337.35" y="234.80" width="13.50" height="0.00" fill="#9450ae"/>
<rect x="356.80" y="180.95" width="13.50" height="53.85" fill="#e4e4e4"/>
<rect x="356.80" y="234.53" width="13.50" height="0.27" fill="#90bdde"/>
<rect x="356.80" y="234.69" width="13.50" height="0.11" fill="#9450ae"/>
<rect x="376.25" y="105.26" width="13.50" height="129.54" fill="#e4e4e4"/>
<rect x="376.25" y="232.86" width="13.50" height="1.94" fill="#90bdde"/>
<rect x="376.25" y="233.38" width="13.50" height="1.42" fill="#9450ae"/>
<rect x="395.70" y="77.70" width="13.50" height="157.10" fill="#e4e4e4"/>
<rect x="395.70" y="226.32" width="13.50" height="8.48" fill="#90bdde"/>
<rect x="395.70" y="228.36" width="13.50" height="6.44" fill="#9450ae"/>
<rect x="415.15" y="42.27" width="13.50" height="192.53" fill="#e4e4e4"/>
<rect x="415.15" y="209.00" width="13.50" height="25.80" fill="#90bdde"/>
<rect x="415.15" y="221.52" width="13.50" height="13.28" fill="#9450ae"/>
<rect x="434.60" y="65.64" width="13.50" height="169.16" fill="#e4e4e4"/>
<rect x="434.60" y="205.20" width="13.50" height="29.60" fill="#90bdde"/>
<rect x="434.60" y="217.71" width="13.50" height="17.09" fill="#9450ae"/>
<rect x="454.05" y="136.63" width="13.50" height="98.17" fill="#e4e4e4"/>
<rect x="454.05" y="208.49" width="13.50" height="26.31" fill="#90bdde"/>
<rect x="454.05" y="217.72" width="13.50" height="17.08" fill="#9450ae"/>
<rect x="473.50" y="182.86" width="13.50" height="51.94" fill="#e4e4e4"/>
<rect x="473.50" y="217.30" width="13.50" height="17.50" fill="#90bdde"/>
<rect x="473.50" y="223.01" width="13.50" height="11.79" fill="#9450ae"/>
<rect x="492.95" y="213.59" width="13.50" height="21.21" fill="#e4e4e4"/>
<rect x="492.95" y="225.26" width="13.50" height="9.54" fill="#90bdde"/>
<rect x="492.95" y="228.10" width="13.50" height="6.70" fill="#9450ae"/>
<defs><clipPath id="cb"><rect x="332.5" y="0" width="178.7" height="234.8"/></clipPath></defs><g clip-path="url(#cb)">
<polyline points="344.10,234.80 363.55,234.04 383.00,230.61 402.45,219.18 421.90,208.51 441.35,196.32 460.80,168.51 480.25,148.31 499.70,114.40" fill="none" stroke="#8b38b0" stroke-width="1.40" stroke-linejoin="round"/>
<circle cx="344.10" cy="234.80" r="1.85" fill="#8b38b0"/>
<circle cx="363.55" cy="234.04" r="1.85" fill="#8b38b0"/>
<circle cx="383.00" cy="230.61" r="1.85" fill="#8b38b0"/>
<circle cx="402.45" cy="219.18" r="1.85" fill="#8b38b0"/>
<circle cx="421.90" cy="208.51" r="1.85" fill="#8b38b0"/>
<circle cx="441.35" cy="196.32" r="1.85" fill="#8b38b0"/>
<circle cx="460.80" cy="168.51" r="1.85" fill="#8b38b0"/>
<circle cx="480.25" cy="148.31" r="1.85" fill="#8b38b0"/>
<circle cx="499.70" cy="114.40" r="1.85" fill="#8b38b0"/>
<polyline points="344.10,233.28 363.55,232.90 383.00,229.09 402.45,214.23 421.90,183.75 441.35,168.12 460.80,132.69 480.25,106.40 499.70,63.35" fill="none" stroke="#7ab6df" stroke-width="1.40" stroke-linejoin="round"/>
<path d="M344.10,231.78 L345.60,233.28 L344.10,234.78 L342.60,233.28 Z" fill="#7ab6df"/>
<path d="M363.55,231.40 L365.05,232.90 L363.55,234.40 L362.05,232.90 Z" fill="#7ab6df"/>
<path d="M383.00,227.59 L384.50,229.09 L383.00,230.59 L381.50,229.09 Z" fill="#7ab6df"/>
<path d="M402.45,212.73 L403.95,214.23 L402.45,215.73 L400.95,214.23 Z" fill="#7ab6df"/>
<path d="M421.90,182.25 L423.40,183.75 L421.90,185.25 L420.40,183.75 Z" fill="#7ab6df"/>
<path d="M441.35,166.62 L442.85,168.12 L441.35,169.62 L439.85,168.12 Z" fill="#7ab6df"/>
<path d="M460.80,131.19 L462.30,132.69 L460.80,134.19 L459.30,132.69 Z" fill="#7ab6df"/>
<path d="M480.25,104.90 L481.75,106.40 L480.25,107.90 L478.75,106.40 Z" fill="#7ab6df"/>
<path d="M499.70,61.85 L501.20,63.35 L499.70,64.85 L498.20,63.35 Z" fill="#7ab6df"/>
</g>
<text x="344.16" y="225.48" font-size="5.3" letter-spacing="0.12" text-anchor="middle" style="stroke-width:0.12px" fill="#333" stroke="#333">0.4 %</text>
<text x="344.16" y="231.30" font-size="5.3" letter-spacing="0.12" text-anchor="middle" style="stroke-width:0.12px" fill="#333" stroke="#333">0.0 %</text>
<text x="363.61" y="225.10" font-size="5.3" letter-spacing="0.12" text-anchor="middle" style="stroke-width:0.12px" fill="#333" stroke="#333">0.5 %</text>
<text x="363.61" y="230.54" font-size="5.3" letter-spacing="0.12" text-anchor="middle" style="stroke-width:0.12px" fill="#333" stroke="#333">0.2 %</text>
<text x="383.06" y="221.29" font-size="5.3" letter-spacing="0.12" text-anchor="middle" style="stroke-width:0.12px" fill="#333" stroke="#333">1.5 %</text>
<text x="383.06" y="227.11" font-size="5.3" letter-spacing="0.12" text-anchor="middle" style="stroke-width:0.12px" fill="#333" stroke="#333">1.1 %</text>
<text x="402.51" y="206.43" font-size="5.3" letter-spacing="0.12" text-anchor="middle" style="stroke-width:0.12px" fill="#333" stroke="#333">5.4 %</text>
<text x="402.51" y="215.68" font-size="5.3" letter-spacing="0.12" text-anchor="middle" style="stroke-width:0.12px" fill="#333" stroke="#333">4.1 %</text>
<text x="421.96" y="175.95" font-size="5.3" letter-spacing="0.12" text-anchor="middle" style="stroke-width:0.12px" fill="#333" stroke="#333">13.4 %</text>
<text x="421.96" y="205.01" font-size="5.3" letter-spacing="0.12" text-anchor="middle" style="stroke-width:0.12px" fill="#333" stroke="#333">6.9 %</text>
<text x="441.41" y="160.33" font-size="5.3" letter-spacing="0.12" text-anchor="middle" style="stroke-width:0.12px" fill="#333" stroke="#333">17.5 %</text>
<text x="441.41" y="192.82" font-size="5.3" letter-spacing="0.12" text-anchor="middle" style="stroke-width:0.12px" fill="#333" stroke="#333">10.1 %</text>
<text x="460.86" y="124.89" font-size="5.3" letter-spacing="0.12" text-anchor="middle" style="stroke-width:0.12px" fill="#333" stroke="#333">26.8 %</text>
<text x="460.86" y="165.01" font-size="5.3" letter-spacing="0.12" text-anchor="middle" style="stroke-width:0.12px" fill="#333" stroke="#333">17.4 %</text>
<text x="480.31" y="98.60" font-size="5.3" letter-spacing="0.12" text-anchor="middle" style="stroke-width:0.12px" fill="#333" stroke="#333">33.7 %</text>
<text x="480.31" y="144.81" font-size="5.3" letter-spacing="0.12" text-anchor="middle" style="stroke-width:0.12px" fill="#333" stroke="#333">22.7 %</text>
<text x="499.76" y="55.55" font-size="5.3" letter-spacing="0.12" text-anchor="middle" style="stroke-width:0.12px" fill="#333" stroke="#333">45.0 %</text>
<text x="499.76" y="110.90" font-size="5.3" letter-spacing="0.12" text-anchor="middle" style="stroke-width:0.12px" fill="#333" stroke="#333">31.6 %</text>
<rect x="338.3" y="18.3" width="11.5" height="5.8" fill="#9450ae"/>
<text x="352.2" y="24.4" font-size="7.3" style="stroke:none" fill="#1a1a1a" stroke="#1a1a1a">Index visit NSTEMI</text>
<rect x="435.5" y="18.3" width="11.4" height="5.8" fill="#90bdde"/>
<text x="448" y="24.4" font-size="7.3" style="stroke:none" fill="#1a1a1a" stroke="#1a1a1a">180-day MACE</text>
<rect x="338.2" y="30.9" width="11.4" height="6.4" fill="#e4e4e4"/>
<text x="352.2" y="36.6" font-size="7.3" style="stroke:none" fill="#1a1a1a" stroke="#1a1a1a">Total number of patients in each HEAR category</text>
<rect x="332.5" y="11.9" width="178.7" height="222.9" fill="none" stroke="#aaaaaa" stroke-width="1.05"/>
<line x1="330.3" y1="234.80" x2="332.5" y2="234.80" stroke="#aaaaaa" stroke-width="1"/>
<text x="329.2" y="238.80" font-size="11.2" text-anchor="end" fill="#1a1a1a" stroke="#1a1a1a">0</text>
<line x1="330.3" y1="196.70" x2="332.5" y2="196.70" stroke="#aaaaaa" stroke-width="1"/>
<text x="329.2" y="200.70" font-size="11.2" text-anchor="end" fill="#1a1a1a" stroke="#1a1a1a">300</text>
<line x1="330.3" y1="158.60" x2="332.5" y2="158.60" stroke="#aaaaaa" stroke-width="1"/>
<text x="329.2" y="162.60" font-size="11.2" text-anchor="end" fill="#1a1a1a" stroke="#1a1a1a">600</text>
<line x1="330.3" y1="120.50" x2="332.5" y2="120.50" stroke="#aaaaaa" stroke-width="1"/>
<text x="329.2" y="124.50" font-size="11.2" text-anchor="end" fill="#1a1a1a" stroke="#1a1a1a">900</text>
<line x1="330.3" y1="82.40" x2="332.5" y2="82.40" stroke="#aaaaaa" stroke-width="1"/>
<text x="329.2" y="86.40" font-size="11.2" text-anchor="end" fill="#1a1a1a" stroke="#1a1a1a">1200</text>
<line x1="330.3" y1="44.30" x2="332.5" y2="44.30" stroke="#aaaaaa" stroke-width="1"/>
<text x="329.2" y="48.30" font-size="11.2" text-anchor="end" fill="#1a1a1a" stroke="#1a1a1a">1500</text>
<line x1="511.2" y1="234.80" x2="513.4" y2="234.80" stroke="#aaaaaa" stroke-width="1"/>
<text x="514.5" y="238.60" font-size="11.6" fill="#1a1a1a" stroke="#1a1a1a">0</text>
<line x1="511.2" y1="196.70" x2="513.4" y2="196.70" stroke="#aaaaaa" stroke-width="1"/>
<text x="514.5" y="200.50" font-size="11.6" fill="#1a1a1a" stroke="#1a1a1a">10</text>
<line x1="511.2" y1="158.60" x2="513.4" y2="158.60" stroke="#aaaaaa" stroke-width="1"/>
<text x="514.5" y="162.40" font-size="11.6" fill="#1a1a1a" stroke="#1a1a1a">20</text>
<line x1="511.2" y1="120.50" x2="513.4" y2="120.50" stroke="#aaaaaa" stroke-width="1"/>
<text x="514.5" y="124.30" font-size="11.6" fill="#1a1a1a" stroke="#1a1a1a">30</text>
<line x1="511.2" y1="82.40" x2="513.4" y2="82.40" stroke="#aaaaaa" stroke-width="1"/>
<text x="514.5" y="86.20" font-size="11.6" fill="#1a1a1a" stroke="#1a1a1a">40</text>
<line x1="511.2" y1="44.30" x2="513.4" y2="44.30" stroke="#aaaaaa" stroke-width="1"/>
<text x="514.5" y="48.10" font-size="11.6" fill="#1a1a1a" stroke="#1a1a1a">50</text>
<line x1="344.10" y1="234.8" x2="344.10" y2="237.0" stroke="#aaaaaa" stroke-width="1"/>
<text x="344.10" y="247.0" font-size="11.2" text-anchor="middle" fill="#1a1a1a" stroke="#1a1a1a">0</text>
<line x1="363.55" y1="234.8" x2="363.55" y2="237.0" stroke="#aaaaaa" stroke-width="1"/>
<text x="363.55" y="247.0" font-size="11.2" text-anchor="middle" fill="#1a1a1a" stroke="#1a1a1a">1</text>
<line x1="383.00" y1="234.8" x2="383.00" y2="237.0" stroke="#aaaaaa" stroke-width="1"/>
<text x="383.00" y="247.0" font-size="11.2" text-anchor="middle" fill="#1a1a1a" stroke="#1a1a1a">2</text>
<line x1="402.45" y1="234.8" x2="402.45" y2="237.0" stroke="#aaaaaa" stroke-width="1"/>
<text x="402.45" y="247.0" font-size="11.2" text-anchor="middle" fill="#1a1a1a" stroke="#1a1a1a">3</text>
<line x1="421.90" y1="234.8" x2="421.90" y2="237.0" stroke="#aaaaaa" stroke-width="1"/>
<text x="421.90" y="247.0" font-size="11.2" text-anchor="middle" fill="#1a1a1a" stroke="#1a1a1a">4</text>
<line x1="441.35" y1="234.8" x2="441.35" y2="237.0" stroke="#aaaaaa" stroke-width="1"/>
<text x="441.35" y="247.0" font-size="11.2" text-anchor="middle" fill="#1a1a1a" stroke="#1a1a1a">5</text>
<line x1="460.80" y1="234.8" x2="460.80" y2="237.0" stroke="#aaaaaa" stroke-width="1"/>
<text x="460.80" y="247.0" font-size="11.2" text-anchor="middle" fill="#1a1a1a" stroke="#1a1a1a">6</text>
<line x1="480.25" y1="234.8" x2="480.25" y2="237.0" stroke="#aaaaaa" stroke-width="1"/>
<text x="480.25" y="247.0" font-size="11.2" text-anchor="middle" fill="#1a1a1a" stroke="#1a1a1a">7</text>
<line x1="499.70" y1="234.8" x2="499.70" y2="237.0" stroke="#aaaaaa" stroke-width="1"/>
<text x="499.70" y="247.0" font-size="11.2" text-anchor="middle" fill="#1a1a1a" stroke="#1a1a1a">8</text>
<text x="421.9" y="260.2" font-size="12.8" text-anchor="middle" fill="#1a1a1a" stroke="#1a1a1a">HEAR</text>
<text transform="translate(297.2,123) rotate(-90)" font-size="12.8" text-anchor="middle" fill="#1a1a1a" stroke="#1a1a1a">Number of patients</text>
<text transform="translate(534,123.5) rotate(90)" font-size="12.9" text-anchor="middle" fill="#1a1a1a" stroke="#1a1a1a">Event prevalence (%)</text>
</svg></body></html>
